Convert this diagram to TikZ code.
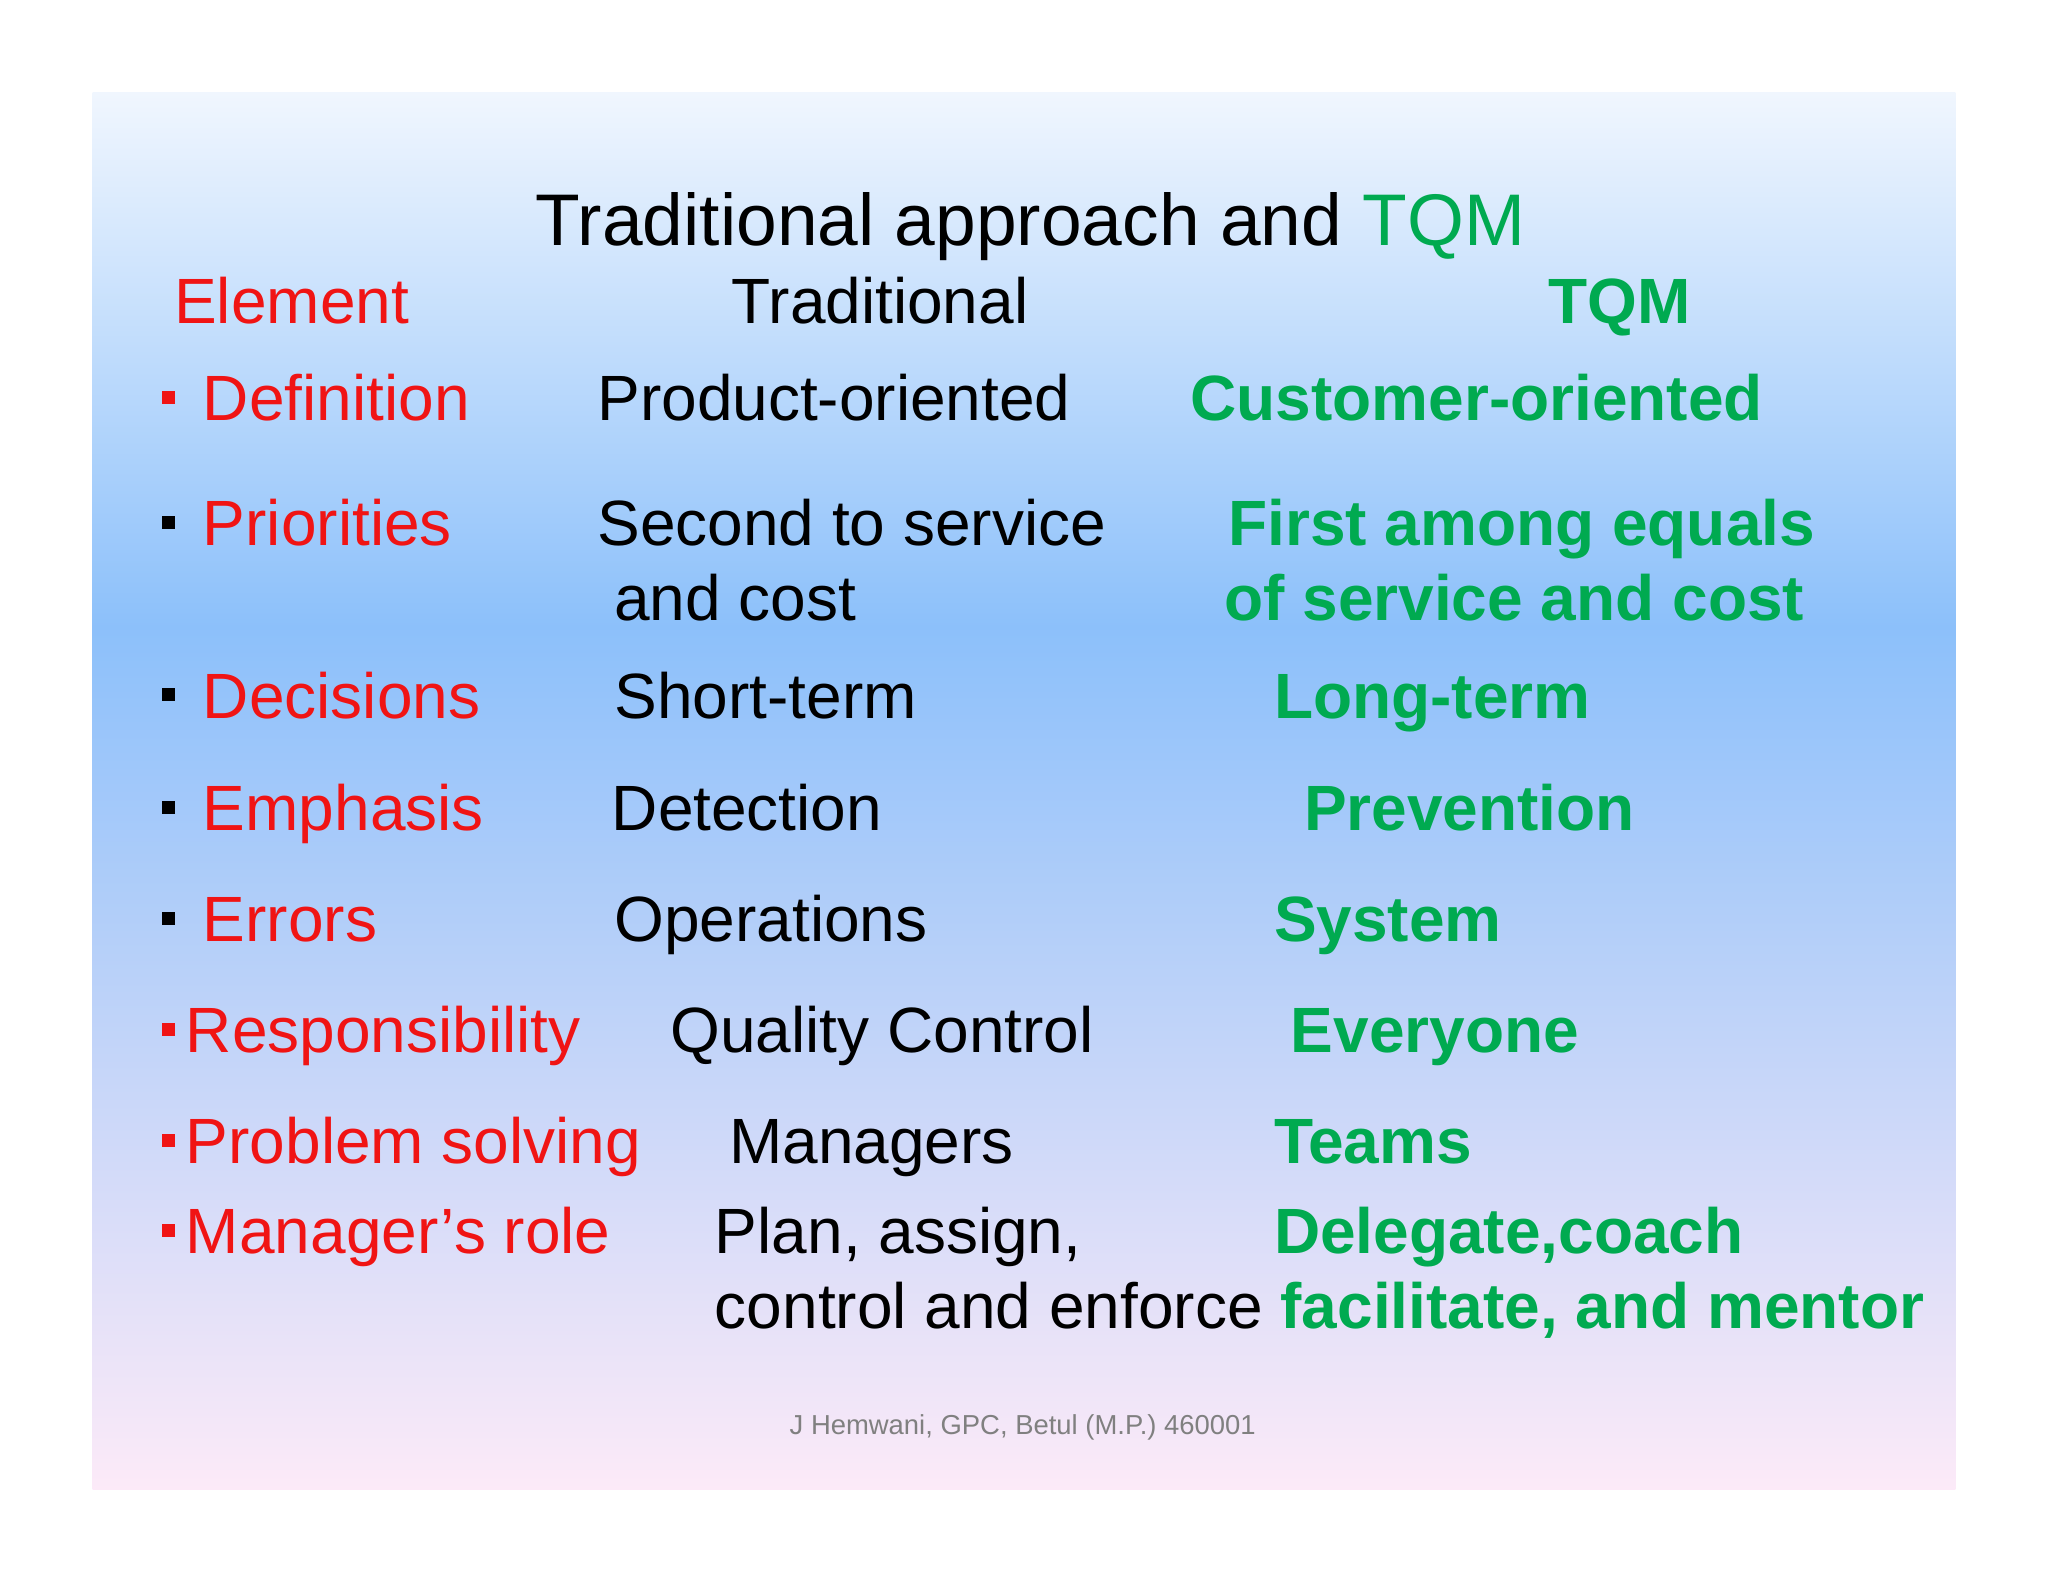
\documentclass[tikz,border=0pt]{standalone}
\usepackage{fontspec}
\setmainfont{Liberation Sans}
\definecolor{tgreen}{RGB}{0,170,80}
\definecolor{tred}{RGB}{240,20,20}
\definecolor{bgtop}{RGB}{240,246,254}
\definecolor{bgmid}{RGB}{140,192,250}
\definecolor{bgbot}{RGB}{252,234,248}
\begin{document}
\begin{tikzpicture}[x=0.5pt,y=-0.5pt,
  el/.style={anchor=base west,inner sep=0,text=tred,font=\fontsize{24.5}{28}\selectfont},
  tr/.style={anchor=base west,inner sep=0,text=black,font=\fontsize{24.5}{28}\selectfont},
  tq/.style={anchor=base west,inner sep=0,text=tgreen,font=\fontsize{24.5}{28}\selectfont\bfseries}]
\useasboundingbox (0,0) rectangle (1568,1211);
\fill[white] (0,0) rectangle (1568,1211);
\shade[top color=bgtop,bottom color=bgmid] (71,71) rectangle (1497,480);
\shade[top color=bgmid,bottom color=bgbot] (71,479) rectangle (1497,1140);
\node[anchor=base,inner sep=0,font=\fontsize{28}{32}\selectfont] (title) at (789,188) {Traditional approach and \textcolor{tgreen}{TQM}};
\node[el] (h1) at (133,248) {Element};
\node[tr] (h2) at (560,248) {Traditional};
\node[tq] (h3) at (1185,248) {TQM};
% bullets
\foreach \b/\c in {322/tred,418/black,550/black,636/black,721/black,806/tred,891/tred,960/tred}
  \fill[\c] (124,\b-23) rectangle (134,\b-13);
\node[el] (e1) at (155,322) {Definition};
\node[el] (e2) at (155,418) {Priorities};
\node[el] (e3) at (155,550) {Decisions};
\node[el] (e4) at (155,636) {Emphasis};
\node[el] (e5) at (155,721) {Errors};
\node[el] (e6) at (142,806) {Responsibility};
\node[el] (e7) at (142,891) {Problem solving};
\node[el] (e8) at (142,960) {Manager’s role};
\node[tr] (t1) at (457,322) {Product-oriented};
\node[tr] (t2) at (457,418) {Second to service};
\node[tr] (t2b) at (470,475) {and cost};
\node[tr] (t3) at (470,550) {Short-term};
\node[tr] (t4) at (468,636) {Detection};
\node[tr] (t5) at (470,721) {Operations};
\node[tr] (t6) at (513,806) {Quality Control};
\node[tr] (t7) at (558,891) {Managers};
\node[tr] (t8) at (547,960) {Plan, assign,};
\node[tr] (t8b) at (547,1017) {control and enforce};
\node[tq] (q1) at (911,322) {Customer-oriented};
\node[tq] (q2) at (940,418) {First among equals};
\node[tq] (q2b) at (937,475) {of service and cost};
\node[tq] (q3) at (975,550) {Long-term};
\node[tq] (q4) at (998,636) {Prevention};
\node[tq] (q5) at (975,721) {System};
\node[tq] (q6) at (988,806) {Everyone};
\node[tq] (q7) at (975,891) {Teams};
\node[tq] (q8) at (975,960) {Delegate,coach};
\node[tq] (q8b) at (980,1017) {facilitate, and mentor};
\node[anchor=base,inner sep=0,text=black!50,font=\fontsize{10.5}{12}\selectfont] (foot) at (783,1098) {J Hemwani, GPC, Betul (M.P.) 460001};
\end{tikzpicture}
\end{document}
